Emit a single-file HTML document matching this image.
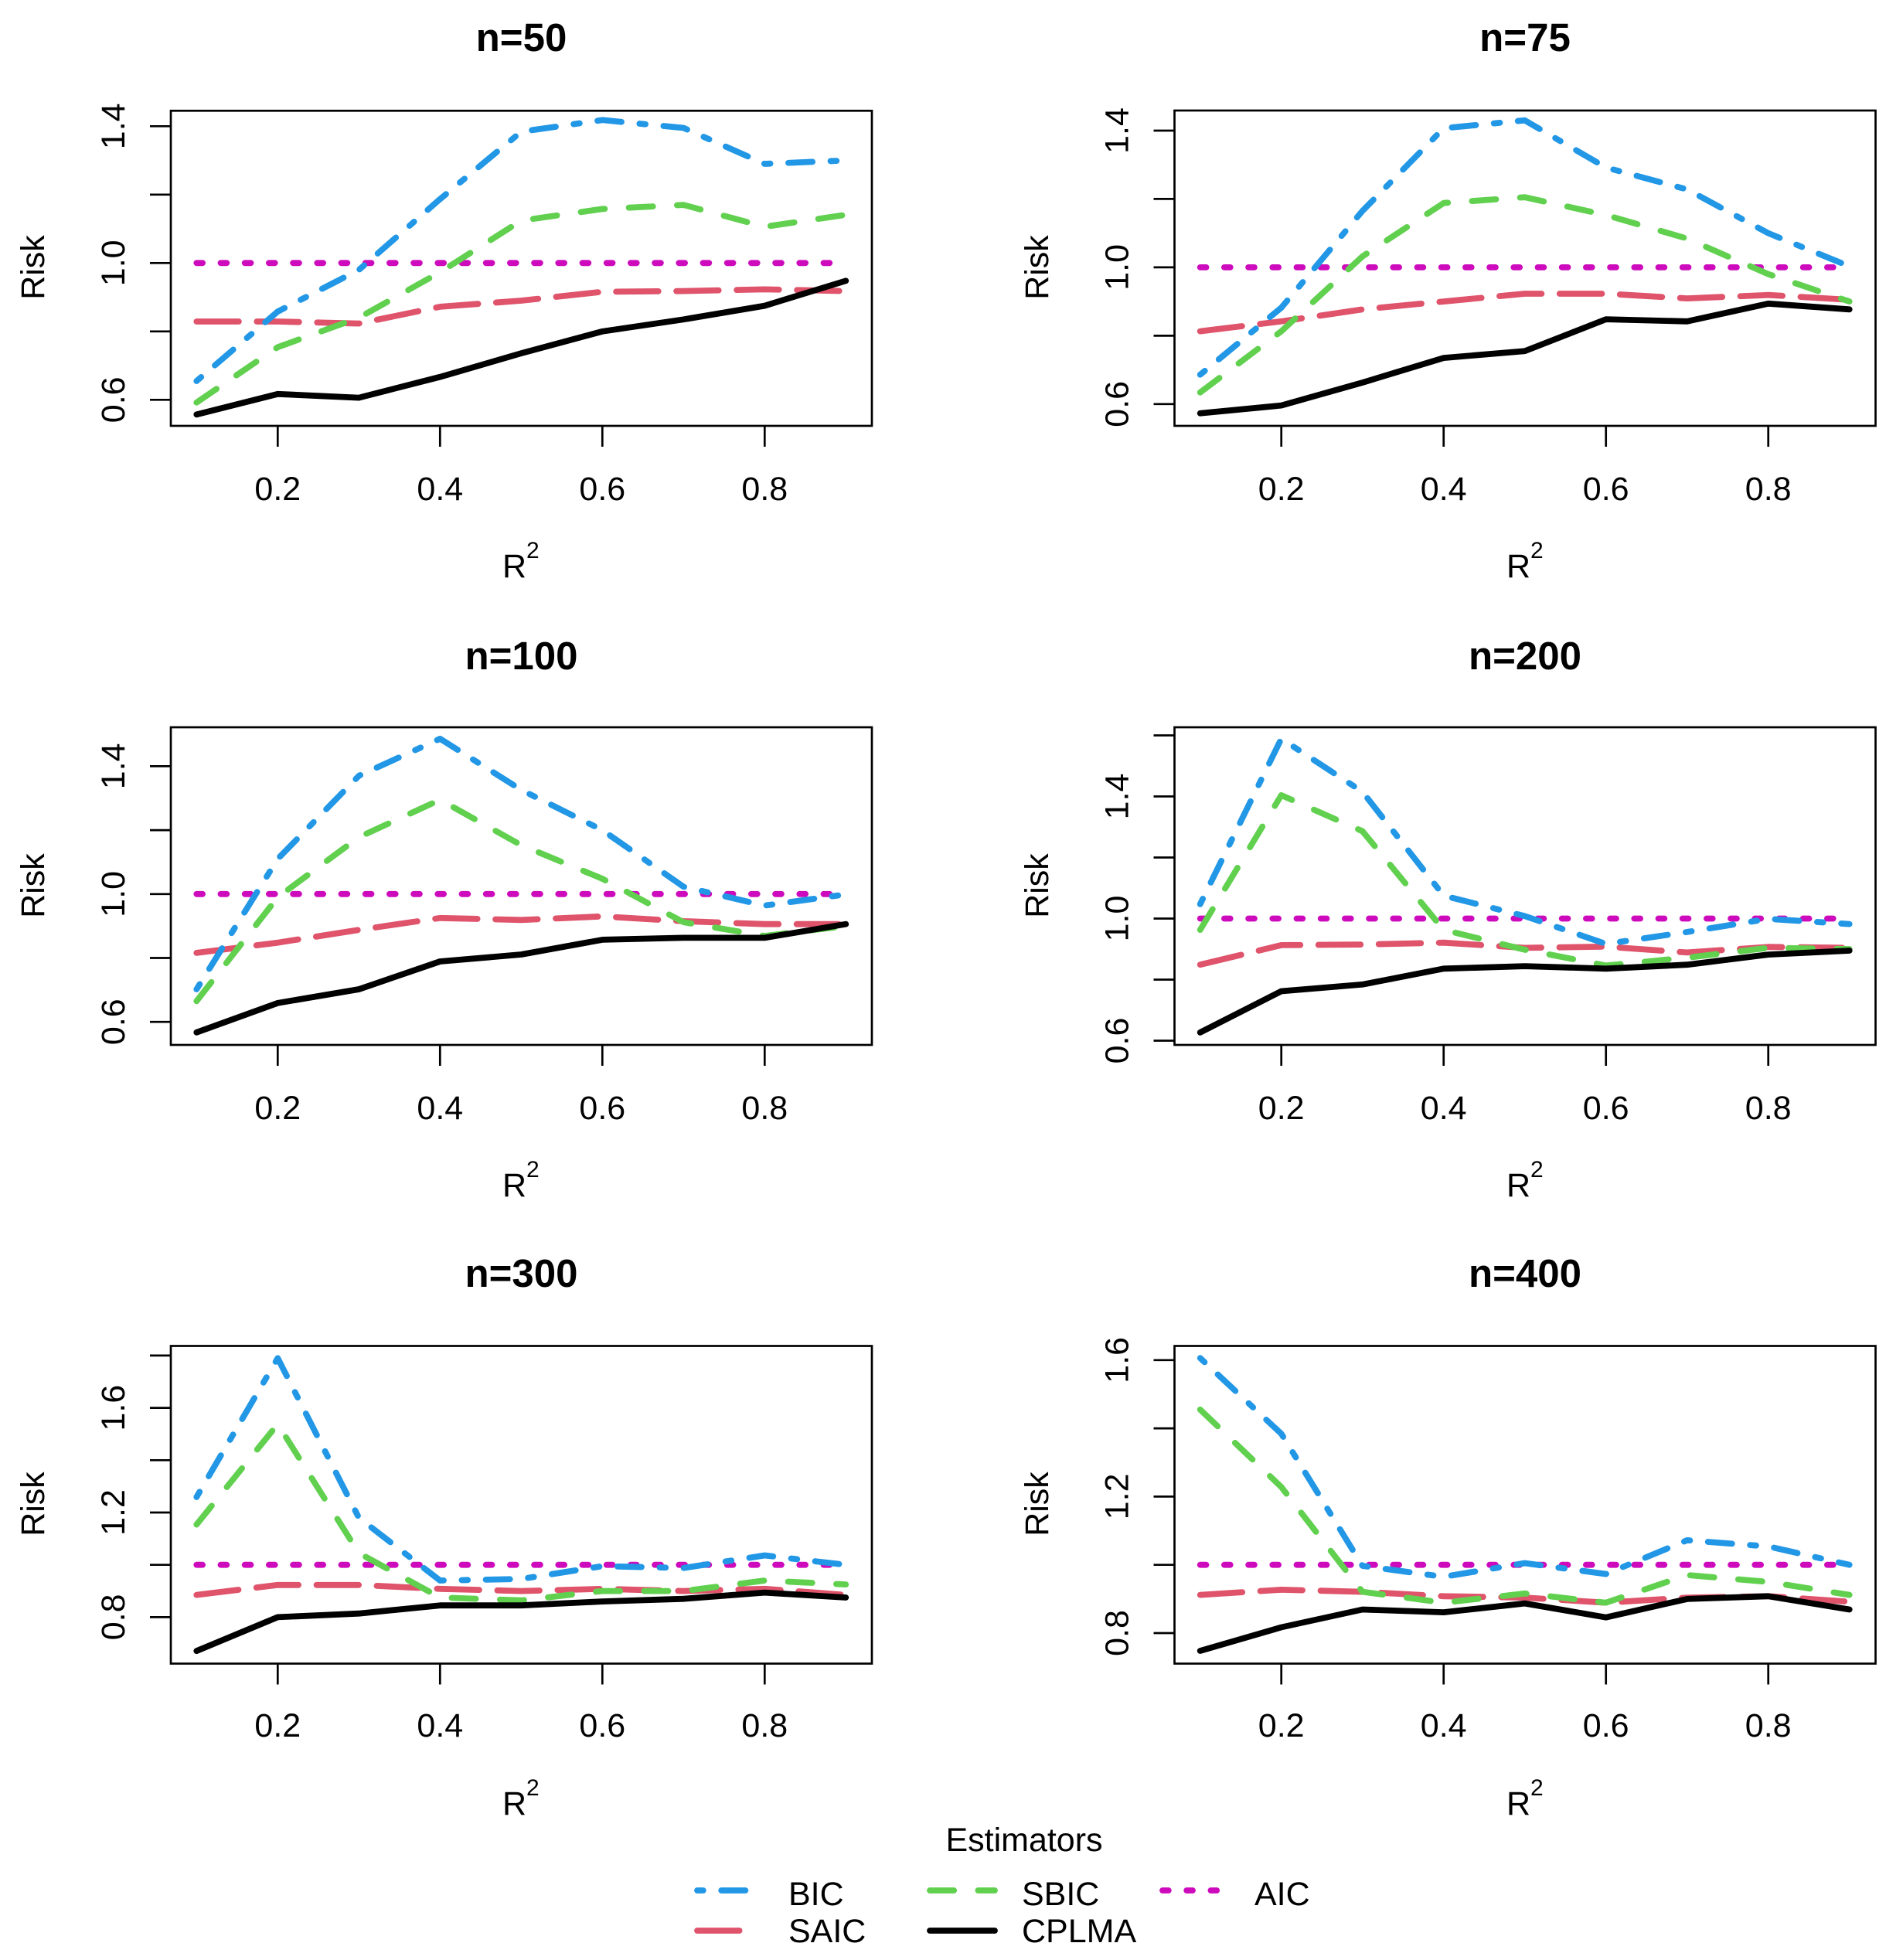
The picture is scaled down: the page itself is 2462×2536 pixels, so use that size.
<!DOCTYPE html>
<html><head><meta charset="utf-8"><style>
html,body{margin:0;padding:0;background:#fff;}
svg{display:block;}
text{font-family:"Liberation Sans",Arial,sans-serif;fill:#000;}
.t{font-size:43px;}
.ti{font-size:51px;font-weight:bold;}
.s{font-size:30px;}
.box{fill:none;stroke:#000;stroke-width:2.7;}
.tk{stroke:#000;stroke-width:2.7;fill:none;}
.ln{fill:none;stroke-width:7.8;stroke-linecap:round;stroke-linejoin:round;}
.bic{stroke:#2297E6;stroke-dasharray:7.8 23.4 31.2 23.4;}
.sbic{stroke:#61D04F;stroke-dasharray:31.2 31.2;}
.aic{stroke:#CD0BBC;stroke-dasharray:7.8 23.4;}
.saic{stroke:#DF536B;stroke-dasharray:54.6 23.4;}
.cp{stroke:#000;}
</style></head><body>
<svg width="2462" height="2536" viewBox="0 0 2462 2536" xmlns="http://www.w3.org/2000/svg">
<rect x="0" y="0" width="2462" height="2536" fill="#fff"/>

<!-- ================= Panel 1 n=50 ================= -->
<text class="ti" x="674.5" y="66" text-anchor="middle">n=50</text>
<polyline class="ln aic" points="254.3,340.3 1094.3,340.3"/>
<polyline class="ln saic" points="254.3,416.0 359.3,416.0 464.3,418.6 569.3,396.9 674.3,389.0 779.3,377.5 884.3,376.6 989.3,374.4 1094.3,376.6"/>
<polyline class="ln sbic" points="254.3,520.8 359.3,449.2 464.3,411.1 569.3,352.2 674.3,285.4 779.3,270.4 884.3,265.1 989.3,293.4 1094.3,277.9"/>
<polyline class="ln bic" points="254.3,493.0 359.3,403.1 464.3,349.2 569.3,257.6 674.3,170.4 779.3,155.3 884.3,165.5 989.3,212.0 1094.3,207.6"/>
<polyline class="ln cp" points="254.3,536.3 359.3,509.8 464.3,514.6 569.3,487.7 674.3,457.1 779.3,428.8 884.3,413.3 989.3,395.6 1094.3,363.3"/>
<rect class="box" x="221" y="143.3" width="907" height="407.7"/>
<path class="tk" d="M194,517.3H221M194,428.8H221M194,340.3H221M194,251.8H221M194,163.3H221"/>
<path class="tk" d="M359.3,551V578M569.3,551V578M779.3,551V578M989.3,551V578"/>
<text class="t" transform="translate(161,517.3) rotate(-90)" text-anchor="middle">0.6</text>
<text class="t" transform="translate(161,340.3) rotate(-90)" text-anchor="middle">1.0</text>
<text class="t" transform="translate(161,163.3) rotate(-90)" text-anchor="middle">1.4</text>
<text class="t" x="359.3" y="647" text-anchor="middle">0.2</text>
<text class="t" x="569.3" y="647" text-anchor="middle">0.4</text>
<text class="t" x="779.3" y="647" text-anchor="middle">0.6</text>
<text class="t" x="989.3" y="647" text-anchor="middle">0.8</text>
<text class="t" transform="translate(57,346) rotate(-90)" text-anchor="middle">Risk</text>
<text class="t" x="650" y="747">R</text><text class="s" x="681" y="722">2</text>

<!-- ================= Panel 2 n=75 ================= -->
<text class="ti" x="1973" y="66" text-anchor="middle">n=75</text>
<polyline class="ln aic" points="1552.7,345.9 2392.7,345.9"/>
<polyline class="ln saic" points="1552.7,428.6 1657.7,415.8 1762.7,400.3 1867.7,390.1 1972.7,380.0 2077.7,380.0 2182.7,386.1 2287.7,381.7 2392.7,387.9"/>
<polyline class="ln sbic" points="1552.7,507.8 1657.7,428.6 1762.7,331.7 1867.7,262.7 1972.7,255.2 2077.7,278.2 2182.7,308.7 2287.7,354.7 2392.7,390.1"/>
<polyline class="ln bic" points="1552.7,484.8 1657.7,398.1 1762.7,272.9 1867.7,165.9 1972.7,155.7 2077.7,216.8 2182.7,245.1 2287.7,301.7 2392.7,344.6"/>
<polyline class="ln cp" points="1552.7,534.8 1657.7,524.6 1762.7,495.0 1867.7,463.1 1972.7,454.3 2077.7,413.1 2182.7,415.8 2287.7,392.8 2392.7,400.3"/>
<rect class="box" x="1519.5" y="143" width="907" height="408"/>
<path class="tk" d="M1492.5,522.8H1519.5M1492.5,434.4H1519.5M1492.5,345.9H1519.5M1492.5,257.4H1519.5M1492.5,169H1519.5"/>
<path class="tk" d="M1657.7,551V578M1867.7,551V578M2077.7,551V578M2287.7,551V578"/>
<text class="t" transform="translate(1459.5,522.8) rotate(-90)" text-anchor="middle">0.6</text>
<text class="t" transform="translate(1459.5,345.9) rotate(-90)" text-anchor="middle">1.0</text>
<text class="t" transform="translate(1459.5,169) rotate(-90)" text-anchor="middle">1.4</text>
<text class="t" x="1657.7" y="647" text-anchor="middle">0.2</text>
<text class="t" x="1867.7" y="647" text-anchor="middle">0.4</text>
<text class="t" x="2077.7" y="647" text-anchor="middle">0.6</text>
<text class="t" x="2287.7" y="647" text-anchor="middle">0.8</text>
<text class="t" transform="translate(1356,346) rotate(-90)" text-anchor="middle">Risk</text>
<text class="t" x="1949" y="747">R</text><text class="s" x="1980" y="722">2</text>

<!-- ================= Panel 3 n=100 ================= -->
<text class="ti" x="674.5" y="866" text-anchor="middle">n=100</text>
<polyline class="ln aic" points="254.3,1156.8 1094.3,1156.8"/>
<polyline class="ln saic" points="254.3,1232.9 359.3,1219.7 464.3,1203.1 569.3,1187.8 674.3,1190.3 779.3,1185.7 884.3,1191.9 989.3,1195.7 1094.3,1195.7"/>
<polyline class="ln sbic" points="254.3,1295.3 359.3,1160.9 464.3,1083.2 569.3,1034.8 674.3,1093.5 779.3,1137.0 884.3,1193.2 989.3,1211.0 1094.3,1198.2"/>
<polyline class="ln bic" points="254.3,1280.0 359.3,1111.3 464.3,1003.8 569.3,955.8 674.3,1022.0 779.3,1074.1 884.3,1147.3 989.3,1171.7 1094.3,1157.2"/>
<polyline class="ln cp" points="254.3,1335.8 359.3,1297.8 464.3,1280.0 569.3,1244.0 674.3,1235.0 779.3,1215.9 884.3,1213.4 989.3,1213.4 1094.3,1195.7"/>
<rect class="box" x="221" y="941" width="907" height="411"/>
<path class="tk" d="M194,1322.2H221M194,1239.5H221M194,1156.8H221M194,1074.1H221M194,991.4H221"/>
<path class="tk" d="M359.3,1352V1379M569.3,1352V1379M779.3,1352V1379M989.3,1352V1379"/>
<text class="t" transform="translate(161,1322.2) rotate(-90)" text-anchor="middle">0.6</text>
<text class="t" transform="translate(161,1156.8) rotate(-90)" text-anchor="middle">1.0</text>
<text class="t" transform="translate(161,991.4) rotate(-90)" text-anchor="middle">1.4</text>
<text class="t" x="359.3" y="1448" text-anchor="middle">0.2</text>
<text class="t" x="569.3" y="1448" text-anchor="middle">0.4</text>
<text class="t" x="779.3" y="1448" text-anchor="middle">0.6</text>
<text class="t" x="989.3" y="1448" text-anchor="middle">0.8</text>
<text class="t" transform="translate(57,1146) rotate(-90)" text-anchor="middle">Risk</text>
<text class="t" x="650" y="1548">R</text><text class="s" x="681" y="1523">2</text>

<!-- ================= Panel 4 n=200 ================= -->
<text class="ti" x="1973" y="866" text-anchor="middle">n=200</text>
<polyline class="ln aic" points="1552.7,1188.5 2392.7,1188.5"/>
<polyline class="ln saic" points="1552.7,1248.2 1657.7,1222.9 1762.7,1222.1 1867.7,1219.7 1972.7,1226.4 2077.7,1224.8 2182.7,1232.4 2287.7,1225.2 2392.7,1226.4"/>
<polyline class="ln sbic" points="1552.7,1203.1 1657.7,1028.9 1762.7,1075.5 1867.7,1203.1 1972.7,1228.8 2077.7,1249.3 2182.7,1239.1 2287.7,1226.4 2392.7,1228.0"/>
<polyline class="ln bic" points="1552.7,1169.9 1657.7,955.8 1762.7,1024.5 1867.7,1158.9 1972.7,1185.3 2077.7,1221.3 2182.7,1205.9 2287.7,1188.9 2392.7,1195.6"/>
<polyline class="ln cp" points="1552.7,1335.9 1657.7,1282.5 1762.7,1273.8 1867.7,1253.3 1972.7,1250.1 2077.7,1253.3 2182.7,1248.2 2287.7,1235.1 2392.7,1230.0"/>
<rect class="box" x="1519.5" y="941" width="907" height="411"/>
<path class="tk" d="M1492.5,1346.5H1519.5M1492.5,1267.5H1519.5M1492.5,1188.5H1519.5M1492.5,1109.5H1519.5M1492.5,1030.5H1519.5M1492.5,951.5H1519.5"/>
<path class="tk" d="M1657.7,1352V1379M1867.7,1352V1379M2077.7,1352V1379M2287.7,1352V1379"/>
<text class="t" transform="translate(1459.5,1346.5) rotate(-90)" text-anchor="middle">0.6</text>
<text class="t" transform="translate(1459.5,1188.5) rotate(-90)" text-anchor="middle">1.0</text>
<text class="t" transform="translate(1459.5,1030.5) rotate(-90)" text-anchor="middle">1.4</text>
<text class="t" x="1657.7" y="1448" text-anchor="middle">0.2</text>
<text class="t" x="1867.7" y="1448" text-anchor="middle">0.4</text>
<text class="t" x="2077.7" y="1448" text-anchor="middle">0.6</text>
<text class="t" x="2287.7" y="1448" text-anchor="middle">0.8</text>
<text class="t" transform="translate(1356,1146) rotate(-90)" text-anchor="middle">Risk</text>
<text class="t" x="1949" y="1548">R</text><text class="s" x="1980" y="1523">2</text>

<!-- ================= Panel 5 n=300 ================= -->
<text class="ti" x="674.5" y="1665" text-anchor="middle">n=300</text>
<polyline class="ln aic" points="254.3,2024.7 1094.3,2024.7"/>
<polyline class="ln saic" points="254.3,2063.6 359.3,2050.8 464.3,2050.8 569.3,2055.8 674.3,2058.6 779.3,2055.8 884.3,2058.6 989.3,2055.8 1094.3,2063.6"/>
<polyline class="ln sbic" points="254.3,1972.6 359.3,1842.6 464.3,2009.5 569.3,2067.0 674.3,2070.7 779.3,2058.6 884.3,2058.6 989.3,2045.0 1094.3,2050.1"/>
<polyline class="ln bic" points="254.3,1937.0 359.3,1757.3 464.3,1963.8 569.3,2045.0 674.3,2043.0 779.3,2026.4 884.3,2028.8 989.3,2012.5 1094.3,2024.7"/>
<polyline class="ln cp" points="254.3,2136.1 359.3,2092.4 464.3,2087.7 569.3,2077.2 674.3,2077.2 779.3,2072.1 884.3,2068.7 989.3,2060.6 1094.3,2067.0"/>
<rect class="box" x="221" y="1741.5" width="907" height="411"/>
<path class="tk" d="M194,2092.4H221M194,2024.7H221M194,1957H221M194,1889.3H221M194,1821.6H221M194,1753.9H221"/>
<path class="tk" d="M359.3,2152.5V2179.5M569.3,2152.5V2179.5M779.3,2152.5V2179.5M989.3,2152.5V2179.5"/>
<text class="t" transform="translate(161,2092.4) rotate(-90)" text-anchor="middle">0.8</text>
<text class="t" transform="translate(161,1957) rotate(-90)" text-anchor="middle">1.2</text>
<text class="t" transform="translate(161,1821.6) rotate(-90)" text-anchor="middle">1.6</text>
<text class="t" x="359.3" y="2247" text-anchor="middle">0.2</text>
<text class="t" x="569.3" y="2247" text-anchor="middle">0.4</text>
<text class="t" x="779.3" y="2247" text-anchor="middle">0.6</text>
<text class="t" x="989.3" y="2247" text-anchor="middle">0.8</text>
<text class="t" transform="translate(57,1946) rotate(-90)" text-anchor="middle">Risk</text>
<text class="t" x="650" y="2348">R</text><text class="s" x="681" y="2323">2</text>

<!-- ================= Panel 6 n=400 ================= -->
<text class="ti" x="1973" y="1665" text-anchor="middle">n=400</text>
<polyline class="ln aic" points="1552.7,2024.7 2392.7,2024.7"/>
<polyline class="ln saic" points="1552.7,2063.6 1657.7,2056.9 1762.7,2059.6 1867.7,2065.3 1972.7,2067.1 2077.7,2073.7 2182.7,2067.1 2287.7,2065.3 2392.7,2072.4"/>
<polyline class="ln sbic" points="1552.7,1823.8 1657.7,1924.0 1762.7,2059.6 1867.7,2073.7 1972.7,2061.8 2077.7,2073.7 2182.7,2037.9 2287.7,2046.8 2392.7,2063.6"/>
<polyline class="ln bic" points="1552.7,1757.1 1657.7,1855.1 1762.7,2026.0 1867.7,2040.2 1972.7,2022.5 2077.7,2036.6 2182.7,1992.9 2287.7,2000.9 2392.7,2024.7"/>
<polyline class="ln cp" points="1552.7,2136.0 1657.7,2105.5 1762.7,2082.5 1867.7,2086.1 1972.7,2074.6 2077.7,2092.7 2182.7,2068.9 2287.7,2065.3 2392.7,2082.5"/>
<rect class="box" x="1519.5" y="1741.5" width="907" height="411"/>
<path class="tk" d="M1492.5,2113H1519.5M1492.5,2024.7H1519.5M1492.5,1936.4H1519.5M1492.5,1848.1H1519.5M1492.5,1759.8H1519.5"/>
<path class="tk" d="M1657.7,2152.5V2179.5M1867.7,2152.5V2179.5M2077.7,2152.5V2179.5M2287.7,2152.5V2179.5"/>
<text class="t" transform="translate(1459.5,2113) rotate(-90)" text-anchor="middle">0.8</text>
<text class="t" transform="translate(1459.5,1936.4) rotate(-90)" text-anchor="middle">1.2</text>
<text class="t" transform="translate(1459.5,1759.8) rotate(-90)" text-anchor="middle">1.6</text>
<text class="t" x="1657.7" y="2247" text-anchor="middle">0.2</text>
<text class="t" x="1867.7" y="2247" text-anchor="middle">0.4</text>
<text class="t" x="2077.7" y="2247" text-anchor="middle">0.6</text>
<text class="t" x="2287.7" y="2247" text-anchor="middle">0.8</text>
<text class="t" transform="translate(1356,1946) rotate(-90)" text-anchor="middle">Risk</text>
<text class="t" x="1949" y="2348">R</text><text class="s" x="1980" y="2323">2</text>

<!-- ================= Legend ================= -->
<text class="t" x="1325" y="2395" text-anchor="middle">Estimators</text>
<line class="ln bic" x1="902" y1="2446" x2="986" y2="2446"/>
<text class="t" x="1020" y="2465">BIC</text>
<line class="ln sbic" x1="1203" y1="2446" x2="1287" y2="2446"/>
<text class="t" x="1322" y="2465">SBIC</text>
<line class="ln aic" x1="1504" y1="2446" x2="1588" y2="2446"/>
<text class="t" x="1623" y="2465">AIC</text>
<line class="ln saic" x1="902" y1="2498" x2="958" y2="2498"/>
<text class="t" x="1020" y="2513">SAIC</text>
<line class="ln cp" x1="1203" y1="2498" x2="1287" y2="2498"/>
<text class="t" x="1322" y="2513">CPLMA</text>
</svg>
</body></html>
